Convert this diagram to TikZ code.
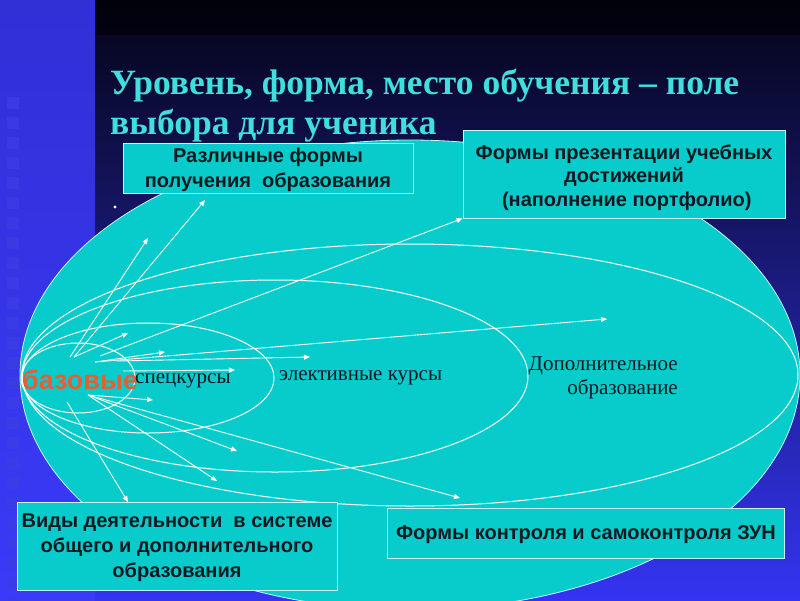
\documentclass[tikz,border=0pt]{standalone}
\usepackage{fontspec}
\setmainfont{Liberation Serif}
\newfontfamily\sansb{Liberation Sans}[BoldFont={Liberation Sans Bold}]
\usetikzlibrary{arrows.meta}
\definecolor{turq}{RGB}{8,204,204}
\definecolor{boxedge}{RGB}{200,245,245}
\definecolor{ink}{RGB}{16,24,32}
\definecolor{titlecol}{RGB}{64,222,220}
\definecolor{orangered}{RGB}{226,96,52}
\definecolor{bgtop}{RGB}{4,4,22}
\definecolor{bgmid}{RGB}{18,18,96}
\definecolor{bgbot}{RGB}{52,52,242}
\definecolor{striptop}{RGB}{48,48,215}
\definecolor{stripmid}{RGB}{14,14,70}
\definecolor{stripbot}{RGB}{58,58,248}
\definecolor{sq}{RGB}{60,60,230}
\tikzset{
  box/.style={draw=boxedge, line width=0.8pt, fill=turq, inner sep=0pt},
  boxtext/.style={text=ink, align=center, inner sep=0pt,
              font=\sansb\bfseries\fontsize{20}{24.5}\selectfont},
  ring/.style={draw=white, line width=1pt},
  arr/.style={draw=white, line width=0.9pt, -{Triangle[length=6pt,width=5pt]}},
  serifl/.style={text=ink, font=\fontsize{21}{24}\selectfont, inner sep=0pt},
  titletext/.style={anchor=base west, text=titlecol, inner sep=0pt,
      font=\bfseries\fontsize{35.5}{40}\selectfont},
}
\begin{document}
\begin{tikzpicture}[x=1pt,y=-1pt]
\useasboundingbox (0,0) rectangle (800,600);
% background
\shade[top color=bgtop, middle color=bgmid, bottom color=bgbot] (0,0) rectangle (800,600);
\fill[black, opacity=0.5] (95,0) rectangle (800,35);
\shade[top color=striptop, middle color=stripmid, bottom color=stripbot] (0,0) rectangle (95,600);
\foreach \k in {0,...,25} {
  \fill[sq, opacity=0.85] (7,97+20*\k) rectangle (19,109+20*\k);
}
% big ellipse
\fill[turq] (410,375) ellipse [x radius=390pt, y radius=235pt];
\draw[boxedge, line width=0.8pt] (410,375) ellipse [x radius=390pt, y radius=235pt];
% nested rings
\draw[ring] (78,378) ellipse [x radius=57pt, y radius=35pt];
\draw[ring] (148,378) ellipse [x radius=126pt, y radius=55pt];
\draw[ring] (275,376) ellipse [x radius=253pt, y radius=96pt];
\draw[ring] (410,375) ellipse [x radius=388pt, y radius=131pt];
% title
\node[titletext] (t1) at (110,94) {Уровень, форма, место обучения – поле};
\node[titletext] (t2) at (110,134) {выбора для ученика};
% boxes
\node[box, minimum width=290pt, minimum height=50pt] (b1) at (268,168) {};
\node[boxtext] (b1t) at (268,170) {Различные формы\\получения\ \ образования};
\node[box, minimum width=322pt, minimum height=88pt] (b2) at (624,174) {};
\node[boxtext, font=\sansb\bfseries\fontsize{20}{23.5}\selectfont] (b2t) at (624,177.5)
  {Формы презентации учебных\\достижений\\\ (наполнение портфолио)};
\node[box, minimum width=320pt, minimum height=88pt] (b3) at (177,546) {};
\node[boxtext, font=\sansb\bfseries\fontsize{20}{25}\selectfont] (b3t) at (177,548)
  {Виды деятельности\ \ в системе\\общего и дополнительного\\образования};
\node[box, minimum width=397pt, minimum height=50pt] (b4) at (586,533) {};
\node[boxtext] (b4t) at (586,535) {Формы контроля и самоконтроля ЗУН};
% dot
\fill[white] (115,207) circle (1.6pt);
% labels
\node[anchor=west, inner sep=0pt, text=orangered,
      font=\sansb\bfseries\fontsize{27}{30}\selectfont] (bas) at (22,380) {базовые};
\node[serifl, anchor=west] (spec) at (135,381) {спецкурсы};
\node[serifl, anchor=west] (elec) at (279,378) {элективные курсы};
\node[serifl, anchor=base east, align=right] (dop) at (678,394) {Дополнительное\\образование};
% arrow coordinates
\coordinate (s1) at (70,357);
\coordinate (s2) at (74,357);
\coordinate (s3) at (100,356);
\coordinate (s5) at (95,362);
\coordinate (s6) at (123,371);
\coordinate (s8) at (117,361);
\coordinate (s9) at (88,395);
\coordinate (s12) at (67,402);
\coordinate (e1) at (148,238);
\coordinate (e2) at (205,200);
\coordinate (e4) at (128,333);
\coordinate (e5) at (165,352);
\coordinate (e6) at (235,370);
\coordinate (e7) at (607,319);
\coordinate (e8) at (310,357);
\coordinate (e9) at (153,400);
\coordinate (e10) at (237,451);
\coordinate (e11) at (217,481);
\coordinate (e12) at (128,502);
\coordinate (e13) at (460,498);
% arrows
\draw[arr] (s1) -- (e1);
\draw[arr] (s2) -- (e2);
\draw[arr] (s3) -- (b2.south west);
\draw[arr] (s2) -- (e4);
\draw[arr] (s5) -- (e5);
\draw[arr] (s6) -- (e6);
\draw[arr] (s5) -- (e7);
\draw[arr] (s8) -- (e8);
\draw[arr] (s9) -- (e9);
\draw[arr] (s9) -- (e10);
\draw[arr] (s9) -- (e11);
\draw[arr] (s12) -- (e12);
\draw[arr] (s9) -- (e13);
\end{tikzpicture}
\end{document}
